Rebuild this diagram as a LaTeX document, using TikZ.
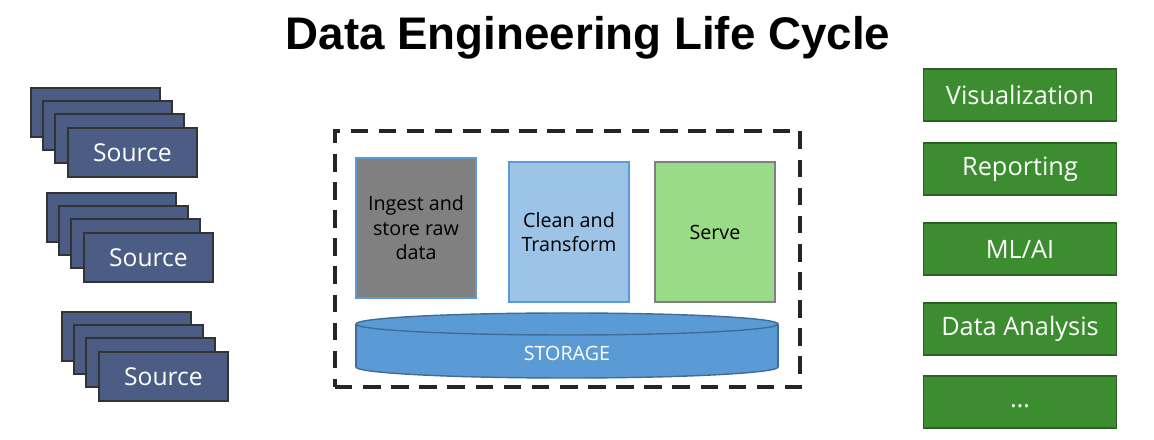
\documentclass[tikz,border=0pt]{standalone}
\usepackage{fontspec}
\setmainfont{Liberation Sans}
\newfontfamily\robo{Open Sans}
\begin{document}
\begin{tikzpicture}[x=0.01cm,y=-0.01cm]
\definecolor{srcfill}{HTML}{4C5D85}
\definecolor{grn}{HTML}{3C8D2F}
\definecolor{cyl}{HTML}{5B9BD5}
\definecolor{srvg}{HTML}{9ADB87}
\tikzset{src/.style={draw=black!80,fill=srcfill,line width=0.5pt},
 rbox/.style={fill=grn,draw=grn!70!black,text=white,font=\robo\fontsize{7.2pt}{8pt}\selectfont,minimum width=1.93cm,minimum height=0.52cm},
 stage/.style={line width=0.5pt,align=center,font=\robo\fontsize{5.6pt}{7pt}\selectfont}}
\useasboundingbox (0,0) rectangle (1154,440);
\node[font=\bfseries\fontsize{13pt}{14pt}\selectfont] (title) at (588,38) {Data Engineering Life Cycle};
\foreach \fx/\fy/\n in {67/127/1,83/232/2,98/351/3}{
  \foreach \k in {3,2,1}{
    \draw[src] (\fx-12*\k,\fy-13*\k) rectangle ++(129,49);}
  \node[src,minimum width=1.29cm,minimum height=0.49cm,anchor=north west,text=white,font=\robo\fontsize{7pt}{8pt}\selectfont] (s\n) at (\fx,\fy) {Source};
}
\node[draw=black!85,dash pattern=on 5pt off 3pt,line width=1pt,minimum width=4.65cm,minimum height=2.56cm] (frame) at (567.5,259) {};
\node[stage,fill=gray,draw=cyl,minimum width=1.2cm,minimum height=1.4cm] (ing) at (416,228) {Ingest and\\store raw\\data};
\node[stage,fill=cyl!60,draw=cyl,minimum width=1.2cm,minimum height=1.4cm] (cln) at (569,232) {Clean and\\Transform};
\node[stage,fill=srvg,draw=gray,minimum width=1.2cm,minimum height=1.4cm] (srv) at (715,232) {Serve};
\draw[cyl!70!black,line width=0.4pt,fill=cyl] (567,367) ellipse[x radius=211,y radius=11];
\fill[cyl] (356,324) rectangle (778,367);
\draw[cyl!70!black,line width=0.4pt] (356,324) -- (356,367) (778,324) -- (778,367);
\draw[cyl!70!black,line width=0.4pt,fill=cyl] (567,324) ellipse[x radius=211,y radius=11];
\node[text=white,font=\robo\fontsize{5.6pt}{7pt}\selectfont] (stor) at (567,353) {STORAGE};
\node[rbox] (r1) at (1020,95) {Visualization};
\node[rbox] (r2) at (1020,169) {Reporting};
\node[rbox] (r3) at (1020,249) {ML/AI};
\node[rbox] (r4) at (1020,329) {Data Analysis};
\node[rbox,text height=0.6ex,text depth=0pt] (r5) at (1020,402) {\dots};
\end{tikzpicture}
\end{document}
